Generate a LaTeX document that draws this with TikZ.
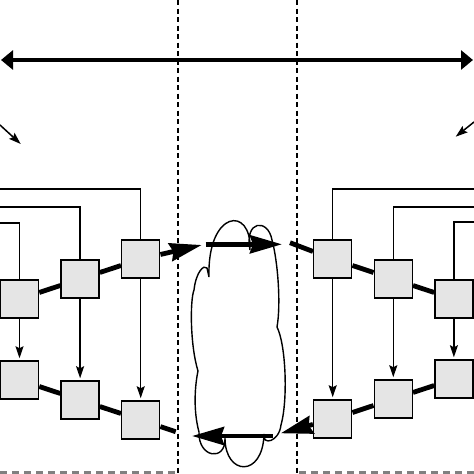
\documentclass[tikz,border=0pt]{standalone}
\usetikzlibrary{arrows.meta}

\begin{document}
\begin{tikzpicture}[x=1pt, y=-1pt, >={Stealth[length=12pt,width=8pt,inset=2pt]}, node distance=60.6pt,
	stage/.style={draw, line width=1.5pt, fill=gray!20, minimum size=38pt, inner sep=0pt},
	feed/.style={line width=1.5pt},
	flow/.style={line width=4.8pt},
	bigtip/.style={-{Stealth[length=32pt,width=18pt,inset=3pt]}},
	divider/.style={line width=1.1pt, dash pattern=on 5pt off 3.5pt},
	rim/.style={line width=2.5pt, black!50, dash pattern=on 7pt off 5pt}]
	\useasboundingbox (0,0) rectangle (474,474);
	\clip (0,0) rectangle (474,474);

	% Stages {l1, ..., l6, r1, ..., r6}
	\node [stage] 	(l1) at (19.5,299) 				{};
	\node [stage] 	(l2) [right of=l1, yshift=20pt] 	{};
	\node [stage] 	(l3) [right of=l2, yshift=20pt] 	{};
	\node [stage] 	(l4) at (19.5,380) 				{};
	\node [stage] 	(l5) [right of=l4, yshift=-20pt] 	{};
	\node [stage] 	(l6) [right of=l5, yshift=-20pt] 	{};
	\node [stage] 	(r1) at (332.7,259) 			{};
	\node [stage] 	(r2) [right of=r1, yshift=-20pt] 	{};
	\node [stage] 	(r3) [right of=r2, yshift=-20pt] 	{};
	\node [stage] 	(r4) at (332.7,419) 			{};
	\node [stage] 	(r5) [right of=r4, yshift=20pt] 	{};
	\node [stage] 	(r6) [right of=r5, yshift=20pt] 	{};

	% Free ends
	\coordinate (fl1) at (0,223);
	\coordinate (fl2) at (0,207);
	\coordinate (fl3) at (0,189);
	\coordinate (fr1) at (474,189);
	\coordinate (fr2) at (474,207);
	\coordinate (fr3) at (474,222);
	\coordinate (westend) at (1,60);
	\coordinate (eastend) at (473,60);
	\coordinate (nwa) at (0,125);
	\coordinate (nwb) at (20.7,144);
	\coordinate (nea) at (474,122);
	\coordinate (neb) at (455.7,136.7);
	\coordinate (topin) at (201.7,245);
	\coordinate (cta) at (205.7,244.3);
	\coordinate (ctb) at (282,244.3);
	\coordinate (topout) at (290,242.7);
	\coordinate (botin) at (280.7,433.3);
	\coordinate (cba) at (273,436);
	\coordinate (cbb) at (192,436);
	\coordinate (botout) at (175.7,431.7);

	% Dividers
	\draw [divider] (178,0) -- (178,474);
	\draw [divider] (297,0) -- (297,474);
	\draw [rim] (0,472.5) -- (176,472.5);
	\draw [rim] (299,472.5) -- (474,472.5);

	% Cloud
	\draw [line width=1.4pt] (209,277) .. controls (207,210) and (252,205) .. (250,250)
		.. controls (244,220) and (268,218) .. (272,240)
		.. controls (278,262) and (281,305) .. (277,327)
		.. controls (286,345) and (288,400) .. (281,425)
		.. controls (279,442) and (262,446) .. (264,434)
		.. controls (263,478) and (225,476) .. (225,438)
		.. controls (226,462) and (198,458) .. (199,432)
		.. controls (193,410) and (195,385) .. (198,371)
		.. controls (190,345) and (190,300) .. (194,290)
		.. controls (196,272) and (204,264) .. (207,268) -- cycle;

	% Flow
	\path [flow, draw] 	(l1) -- (l2);
	\path [flow, draw] 	(l2) -- (l3);
	\path [flow, draw] 	(l4) -- (l5);
	\path [flow, draw] 	(l5) -- (l6);
	\path [flow, draw] 	(r1) -- (r2);
	\path [flow, draw] 	(r2) -- (r3);
	\path [flow, draw] 	(r4) -- (r5);
	\path [flow, draw] 	(r5) -- (r6);
	\path [flow, draw, bigtip] 	(l3) -- (topin);
	\path [flow, draw, bigtip] 	(cta) -- (ctb);
	\path [flow, draw] 			(topout) -- (r1);
	\path [flow, draw, bigtip] 	(r4) -- (botin);
	\path [flow, draw, bigtip] 	(cba) -- (cbb);
	\path [flow, draw] 			(botout) -- (l6);
	\path [flow, draw, {Triangle[length=12pt,width=19pt]}-{Triangle[length=12pt,width=19pt]}] (westend) -- (eastend);

	% Feed paths
	\path [feed, draw, ->, shorten >=2pt] 	(l1) -- (l4);
	\path [feed, draw, ->, shorten >=2pt] 	(l2) -- (l5);
	\path [feed, draw, ->, shorten >=2pt] 	(l3) -- (l6);
	\path [feed, draw, ->, shorten >=2pt] 	(r1) -- (r4);
	\path [feed, draw, ->, shorten >=2pt] 	(r2) -- (r5);
	\path [feed, draw, ->, shorten >=2pt] 	(r3) -- (r6);
	\path [feed, draw] 	(l1.north) |- (fl1);
	\path [feed, draw] 	(l2.north) |- (fl2);
	\path [feed, draw] 	(l3.north) |- (fl3);
	\path [feed, draw] 	(r1.north) |- (fr1);
	\path [feed, draw] 	(r2.north) |- (fr2);
	\path [feed, draw] 	(r3.north) |- (fr3);
	\path [feed, draw, ->] 	(nwa) -- (nwb);
	\path [feed, draw, ->] 	(nea) -- (neb);

\end{tikzpicture}
\end{document}
